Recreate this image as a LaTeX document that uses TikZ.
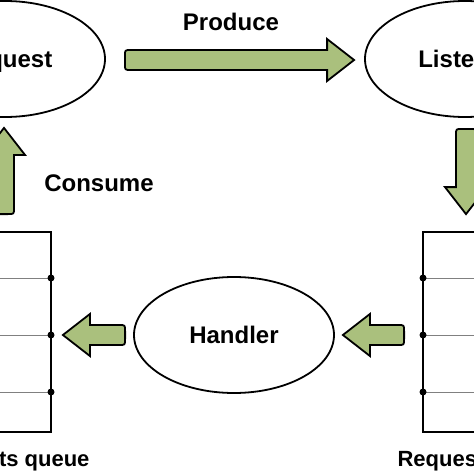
\documentclass[tikz,border=0pt]{standalone}
\usepackage{fontspec}
\setmainfont{Liberation Sans}
\usetikzlibrary{shapes.geometric,calc}
\definecolor{arrowgreen}{RGB}{170,192,125}
\tikzset{
  proc/.style={draw, ellipse, line width=1.8pt, minimum width=200pt, minimum height=116pt,
    inner sep=0pt, text height=17pt, text depth=0pt},
  queue/.style={draw, line width=1.8pt, minimum width=92pt, minimum height=200pt, inner sep=0pt},
  queuename/.style={font=\bfseries\fontsize{22}{26}\selectfont},
  divider/.style={draw=gray, line width=0.8pt},
  bigarrow/.style={draw, line width=1.8pt, fill=arrowgreen, line join=miter, to path={
    let \p1=(\tikztostart), \p2=(\tikztotarget),
        \p3=($(\p2)!27pt!(\p1)$),
        \p4=($(\p3)!10pt!90:(\p1)$), \p5=($(\p3)!10pt!-90:(\p1)$),
        \p6=($(\p3)!21pt!90:(\p1)$), \p7=($(\p3)!21pt!-90:(\p1)$),
        \p8=($(\p1)!10pt!-90:(\p2)$), \p9=($(\p1)!10pt!90:(\p2)$) in
    (\p2) -- (\p6) -- (\p4) -- ($(\p8)!6pt!(\p4)$) .. controls (\p8) .. ($(\p8)!6pt!(\p9)$)
    -- ($(\p9)!6pt!(\p8)$) .. controls (\p9) .. ($(\p9)!6pt!(\p5)$) -- (\p5) -- (\p7) -- cycle}}
}

\begin{document}
\begin{tikzpicture}[x=1pt, y=-1pt, font=\bfseries\fontsize{24}{28}\selectfont]
\useasboundingbox (0,0) rectangle (474,474);
\clip (0,0) rectangle (474,474);

\node[proc] (request) at (5,59) {Request};
\node[proc] (listener) at (465,59) {Listener};
\node[proc] (handler) at (234,335) {Handler};

\node[queue] (results) at (5,332) {};
\node[queue] (requests) at (469,332) {};
\foreach \y in {278,335,392} {
  \draw[divider] (-41,\y) -- (51,\y);
  \fill (51,\y) circle (3.5pt);
  \draw[divider] (423,\y) -- (515,\y);
  \fill (423,\y) circle (3.5pt);
}

\node[anchor=base] (produce) at (231,30) {Produce};
\node[anchor=base] (consume) at (99,191) {Consume};
\node[queuename, anchor=base east] (resultsname) at (93,466) {Results queue};
\node[queuename, anchor=base west] (requestsname) at (394,466) {Requests queue};

\draw[bigarrow] ($(request.east)+(19,1)$) to ($(listener.west)+(-10,1)$);
\draw[bigarrow] ($(listener.south)+(1,11)$) to ($(requests.north)+(-3,-17)$);
\draw[bigarrow] ($(requests.west)+(-18,3)$) to ($(handler.east)+(8,0)$);
\draw[bigarrow] ($(handler.west)+(-8,0)$) to ($(results.east)+(11,3)$);
\draw[bigarrow] ($(results.north)+(-1,-17)$) to ($(request.south)+(-1,10)$);
\end{tikzpicture}
\end{document}
